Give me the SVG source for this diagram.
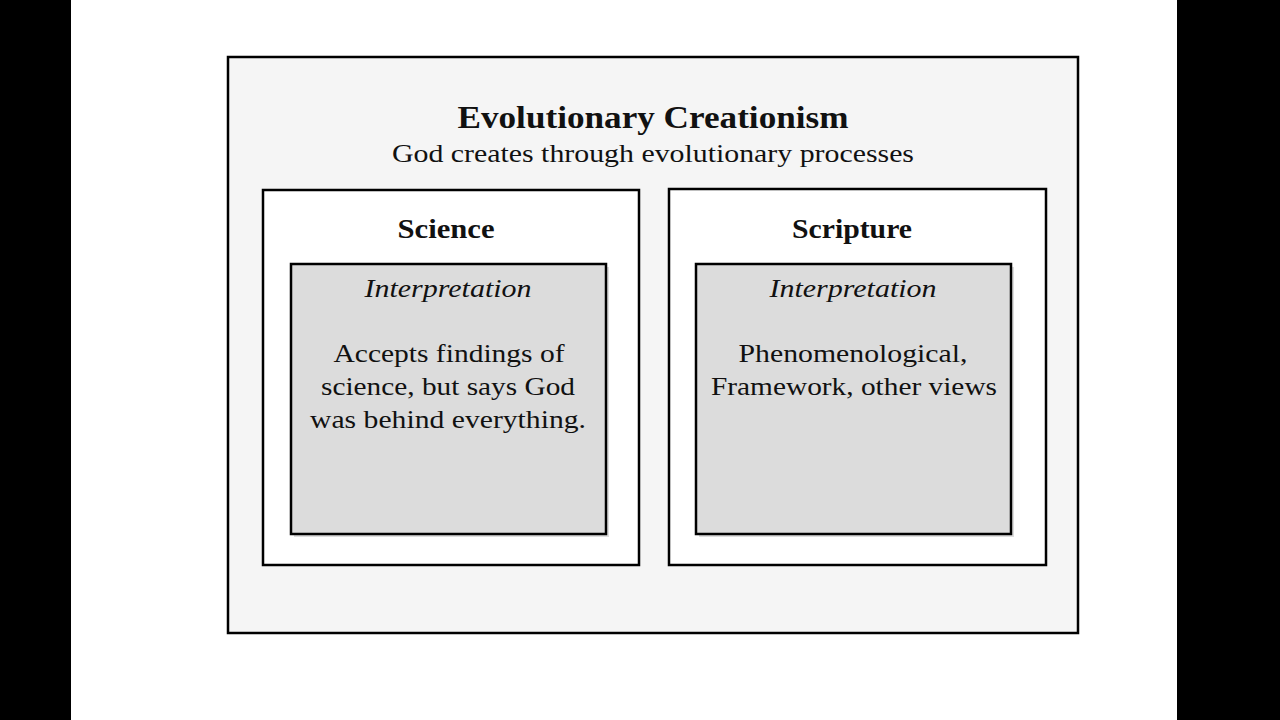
<svg xmlns="http://www.w3.org/2000/svg" width="1280" height="720" viewBox="0 0 1280 720">
<style>
text{font-family:"Liberation Serif","DejaVu Serif",serif;fill:#111;text-anchor:middle}
.box{stroke:#000;stroke-width:2.5}
.h{font-weight:bold;font-size:28px}
.i{font-style:italic;font-size:26px}
.b{font-size:26px}
</style>
<rect x="0" y="0" width="1280" height="720" fill="#fff"/>
<rect x="0" y="0" width="71" height="720" fill="#000"/>
<rect x="1177" y="0" width="103" height="720" fill="#000"/>
<g id="outer">
<rect class="box" x="228" y="57" width="850" height="576" fill="#f5f5f5"/>
<text x="653" y="128" textLength="391" lengthAdjust="spacingAndGlyphs" style="font-weight:bold;font-size:32px">Evolutionary Creationism</text>
<text x="653" y="162" textLength="522" lengthAdjust="spacingAndGlyphs" style="font-size:26px">God creates through evolutionary processes</text>
</g>
<g id="science">
<rect class="box" x="263" y="190" width="376" height="375" fill="#fff"/>
<text class="h" x="446" y="238" textLength="97" lengthAdjust="spacingAndGlyphs">Science</text>
</g>
<g id="science-interp">
<rect x="294" y="267" width="315" height="270" fill="#bbb" opacity="0.5"/>
<rect class="box" x="291" y="264" width="315" height="270" fill="#dcdcdc"/>
<text class="i" x="448" y="297" textLength="167" lengthAdjust="spacingAndGlyphs">Interpretation</text>
<text class="b" x="449" y="362" textLength="231" lengthAdjust="spacingAndGlyphs">Accepts findings of</text>
<text class="b" x="448" y="395" textLength="254" lengthAdjust="spacingAndGlyphs">science, but says God</text>
<text class="b" x="448" y="428" textLength="276" lengthAdjust="spacingAndGlyphs">was behind everything.</text>
</g>
<g id="scripture">
<rect class="box" x="669" y="189" width="377" height="376" fill="#fff"/>
<text class="h" x="852" y="238" textLength="120" lengthAdjust="spacingAndGlyphs">Scripture</text>
</g>
<g id="scripture-interp">
<rect x="699" y="267" width="315" height="270" fill="#bbb" opacity="0.5"/>
<rect class="box" x="696" y="264" width="315" height="270" fill="#dcdcdc"/>
<text class="i" x="853" y="297" textLength="167" lengthAdjust="spacingAndGlyphs">Interpretation</text>
<text class="b" x="853" y="362" textLength="229" lengthAdjust="spacingAndGlyphs">Phenomenological,</text>
<text class="b" x="854" y="395" textLength="286" lengthAdjust="spacingAndGlyphs">Framework, other views</text>
</g>
<g id="connectors"/>
</svg>
